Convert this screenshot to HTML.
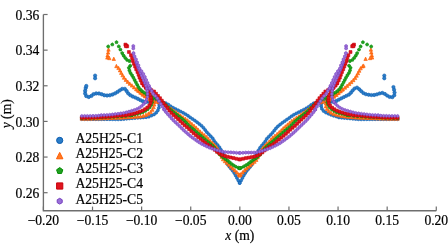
<!DOCTYPE html>
<html><head><meta charset="utf-8"><style>
html,body{margin:0;padding:0;background:#fff;}
svg{display:block;}
text{font-family:"Liberation Serif",serif;font-size:13.6px;fill:#000;stroke:#000;stroke-width:0.2px;}
text.lg{font-size:13.7px;}
</style></head><body>
<svg width="448" height="252" viewBox="0 0 448 252">
<rect width="448" height="252" fill="#fff"/>
<g fill="#2a7dc8" stroke="#0b5cb0" stroke-width="0.6"><circle cx="81.80" cy="119.20" r="1.50"/><circle cx="84.60" cy="119.20" r="1.50"/><circle cx="87.40" cy="119.20" r="1.50"/><circle cx="90.20" cy="119.20" r="1.50"/><circle cx="93.00" cy="119.20" r="1.50"/><circle cx="95.80" cy="119.20" r="1.50"/><circle cx="98.60" cy="119.20" r="1.50"/><circle cx="101.40" cy="119.19" r="1.50"/><circle cx="104.20" cy="119.19" r="1.50"/><circle cx="107.00" cy="119.19" r="1.50"/><circle cx="109.80" cy="119.20" r="1.50"/><circle cx="112.60" cy="119.24" r="1.50"/><circle cx="115.40" cy="119.31" r="1.50"/><circle cx="118.20" cy="119.34" r="1.50"/><circle cx="121.00" cy="119.25" r="1.50"/><circle cx="123.79" cy="119.02" r="1.50"/><circle cx="126.57" cy="118.73" r="1.50"/><circle cx="129.36" cy="118.46" r="1.50"/><circle cx="132.15" cy="118.23" r="1.50"/><circle cx="134.94" cy="118.04" r="1.50"/><circle cx="137.74" cy="117.84" r="1.50"/><circle cx="140.53" cy="117.64" r="1.50"/><circle cx="143.32" cy="117.43" r="1.50"/><circle cx="146.11" cy="117.21" r="1.50"/><circle cx="148.85" cy="116.66" r="1.50"/><circle cx="151.45" cy="115.62" r="1.50"/><circle cx="153.99" cy="114.44" r="1.50"/><circle cx="156.19" cy="112.73" r="1.50"/><circle cx="157.83" cy="110.47" r="1.50"/><circle cx="158.85" cy="107.87" r="1.50"/><circle cx="159.25" cy="105.11" r="1.50"/><circle cx="158.49" cy="102.46" r="1.50"/><circle cx="156.28" cy="100.84" r="1.50"/><circle cx="153.51" cy="100.67" r="1.50"/><circle cx="151.00" cy="101.00" r="1.50"/><circle cx="397.60" cy="119.20" r="1.50"/><circle cx="394.80" cy="119.20" r="1.50"/><circle cx="392.00" cy="119.20" r="1.50"/><circle cx="389.20" cy="119.20" r="1.50"/><circle cx="386.40" cy="119.20" r="1.50"/><circle cx="383.60" cy="119.20" r="1.50"/><circle cx="380.80" cy="119.20" r="1.50"/><circle cx="378.00" cy="119.19" r="1.50"/><circle cx="375.20" cy="119.19" r="1.50"/><circle cx="372.40" cy="119.19" r="1.50"/><circle cx="369.60" cy="119.20" r="1.50"/><circle cx="366.80" cy="119.24" r="1.50"/><circle cx="364.00" cy="119.31" r="1.50"/><circle cx="361.20" cy="119.34" r="1.50"/><circle cx="358.40" cy="119.25" r="1.50"/><circle cx="355.61" cy="119.03" r="1.50"/><circle cx="352.83" cy="118.75" r="1.50"/><circle cx="350.04" cy="118.46" r="1.50"/><circle cx="347.25" cy="118.21" r="1.50"/><circle cx="344.46" cy="117.98" r="1.50"/><circle cx="341.67" cy="117.74" r="1.50"/><circle cx="338.89" cy="117.46" r="1.50"/><circle cx="336.38" cy="116.53" r="1.50"/><circle cx="333.67" cy="115.80" r="1.50"/><circle cx="331.04" cy="114.87" r="1.50"/><circle cx="328.48" cy="113.73" r="1.50"/><circle cx="325.92" cy="112.59" r="1.50"/><circle cx="323.62" cy="111.00" r="1.50"/><circle cx="321.90" cy="108.81" r="1.50"/><circle cx="321.18" cy="106.13" r="1.50"/><circle cx="321.59" cy="103.37" r="1.50"/><circle cx="323.33" cy="101.24" r="1.50"/><circle cx="326.03" cy="100.61" r="1.50"/><circle cx="328.40" cy="101.00" r="1.50"/><circle cx="151.00" cy="101.00" r="1.70"/><circle cx="148.29" cy="101.72" r="1.70"/><circle cx="145.53" cy="102.11" r="1.70"/><circle cx="142.88" cy="101.29" r="1.70"/><circle cx="140.36" cy="100.08" r="1.70"/><circle cx="137.87" cy="98.79" r="1.70"/><circle cx="135.35" cy="97.58" r="1.70"/><circle cx="132.74" cy="96.57" r="1.70"/><circle cx="130.32" cy="95.17" r="1.70"/><circle cx="128.20" cy="93.35" r="1.70"/><circle cx="126.62" cy="91.04" r="1.70"/><circle cx="124.86" cy="88.87" r="1.70"/><circle cx="122.20" cy="88.89" r="1.70"/><circle cx="119.83" cy="90.35" r="1.70"/><circle cx="117.50" cy="91.90" r="1.70"/><circle cx="115.10" cy="93.34" r="1.70"/><circle cx="112.54" cy="94.49" r="1.70"/><circle cx="109.86" cy="95.27" r="1.70"/><circle cx="107.07" cy="95.52" r="1.70"/><circle cx="104.30" cy="95.21" r="1.70"/><circle cx="101.67" cy="94.24" r="1.70"/><circle cx="98.98" cy="93.52" r="1.70"/><circle cx="96.19" cy="93.43" r="1.70"/><circle cx="93.52" cy="94.17" r="1.70"/><circle cx="91.34" cy="95.92" r="1.70"/><circle cx="88.75" cy="96.96" r="1.70"/><circle cx="86.23" cy="96.05" r="1.70"/><circle cx="85.14" cy="93.52" r="1.70"/><circle cx="85.17" cy="90.73" r="1.70"/><circle cx="85.73" cy="87.99" r="1.70"/><circle cx="86.30" cy="86.00" r="1.70"/><circle cx="328.40" cy="101.00" r="1.65"/><circle cx="331.11" cy="101.72" r="1.65"/><circle cx="333.86" cy="102.15" r="1.65"/><circle cx="336.39" cy="101.01" r="1.65"/><circle cx="338.83" cy="99.63" r="1.65"/><circle cx="341.31" cy="98.33" r="1.65"/><circle cx="343.82" cy="97.09" r="1.65"/><circle cx="346.33" cy="95.86" r="1.65"/><circle cx="348.86" cy="94.65" r="1.65"/><circle cx="350.90" cy="92.77" r="1.65"/><circle cx="352.62" cy="90.55" r="1.65"/><circle cx="354.55" cy="88.54" r="1.65"/><circle cx="357.01" cy="87.60" r="1.65"/><circle cx="359.24" cy="89.27" r="1.65"/><circle cx="361.26" cy="91.20" r="1.65"/><circle cx="363.38" cy="93.03" r="1.65"/><circle cx="365.90" cy="94.21" r="1.65"/><circle cx="368.64" cy="94.77" r="1.65"/><circle cx="371.43" cy="95.04" r="1.65"/><circle cx="374.23" cy="94.98" r="1.65"/><circle cx="376.94" cy="94.36" r="1.65"/><circle cx="379.59" cy="93.47" r="1.65"/><circle cx="382.33" cy="92.91" r="1.65"/><circle cx="384.87" cy="93.95" r="1.65"/><circle cx="387.15" cy="95.57" r="1.65"/><circle cx="389.61" cy="96.90" r="1.65"/><circle cx="392.29" cy="97.18" r="1.65"/><circle cx="394.29" cy="95.28" r="1.65"/><circle cx="394.53" cy="92.53" r="1.65"/><circle cx="394.07" cy="89.77" r="1.65"/><circle cx="393.44" cy="87.04" r="1.65"/><circle cx="95.10" cy="75.60" r="1.65"/><circle cx="95.10" cy="78.30" r="1.65"/><circle cx="384.30" cy="75.60" r="1.65"/><circle cx="384.30" cy="78.30" r="1.65"/><circle cx="152.00" cy="101.30" r="1.50"/><circle cx="154.79" cy="101.59" r="1.50"/><circle cx="157.58" cy="101.79" r="1.50"/><circle cx="160.37" cy="101.99" r="1.50"/><circle cx="163.15" cy="102.43" r="1.50"/><circle cx="165.90" cy="103.16" r="1.50"/><circle cx="168.39" cy="104.61" r="1.50"/><circle cx="170.73" cy="106.33" r="1.50"/><circle cx="173.20" cy="107.80" r="1.50"/><circle cx="175.70" cy="109.09" r="1.50"/><circle cx="178.22" cy="110.31" r="1.50"/><circle cx="180.73" cy="111.57" r="1.50"/><circle cx="183.21" cy="112.87" r="1.50"/><circle cx="185.65" cy="114.22" r="1.50"/><circle cx="188.00" cy="115.74" r="1.50"/><circle cx="190.22" cy="117.45" r="1.50"/><circle cx="192.55" cy="119.01" r="1.50"/><circle cx="194.85" cy="120.60" r="1.50"/><circle cx="197.11" cy="122.26" r="1.50"/><circle cx="199.32" cy="123.97" r="1.50"/><circle cx="201.49" cy="125.74" r="1.50"/><circle cx="203.43" cy="127.76" r="1.50"/><circle cx="205.16" cy="129.95" r="1.50"/><circle cx="206.87" cy="132.17" r="1.50"/><circle cx="208.77" cy="134.23" r="1.50"/><circle cx="210.73" cy="136.23" r="1.50"/><circle cx="212.65" cy="138.27" r="1.50"/><circle cx="214.06" cy="140.68" r="1.50"/><circle cx="215.78" cy="142.88" r="1.50"/><circle cx="217.60" cy="145.01" r="1.50"/><circle cx="219.38" cy="147.17" r="1.50"/><circle cx="220.82" cy="149.57" r="1.50"/><circle cx="222.08" cy="152.07" r="1.50"/><circle cx="223.27" cy="154.59" r="1.50"/><circle cx="224.40" cy="157.10" r="1.50"/><circle cx="225.47" cy="159.62" r="1.50"/><circle cx="226.53" cy="162.13" r="1.50"/><circle cx="227.77" cy="164.52" r="1.50"/><circle cx="229.35" cy="166.68" r="1.50"/><circle cx="231.02" cy="168.77" r="1.50"/><circle cx="232.71" cy="170.87" r="1.50"/><circle cx="234.27" cy="173.11" r="1.50"/><circle cx="235.64" cy="175.51" r="1.50"/><circle cx="236.98" cy="177.97" r="1.50"/><circle cx="238.29" cy="180.44" r="1.50"/><circle cx="239.56" cy="182.94" r="1.50"/><circle cx="327.40" cy="101.30" r="1.50"/><circle cx="324.61" cy="101.59" r="1.50"/><circle cx="321.82" cy="101.79" r="1.50"/><circle cx="319.03" cy="101.99" r="1.50"/><circle cx="316.25" cy="102.50" r="1.50"/><circle cx="313.50" cy="103.36" r="1.50"/><circle cx="311.01" cy="104.97" r="1.50"/><circle cx="308.67" cy="106.82" r="1.50"/><circle cx="306.20" cy="108.37" r="1.50"/><circle cx="303.70" cy="109.69" r="1.50"/><circle cx="301.18" cy="110.91" r="1.50"/><circle cx="298.67" cy="112.17" r="1.50"/><circle cx="296.19" cy="113.47" r="1.50"/><circle cx="293.75" cy="114.82" r="1.50"/><circle cx="291.40" cy="116.34" r="1.50"/><circle cx="289.18" cy="118.05" r="1.50"/><circle cx="286.85" cy="119.61" r="1.50"/><circle cx="284.55" cy="121.20" r="1.50"/><circle cx="282.29" cy="122.86" r="1.50"/><circle cx="280.08" cy="124.57" r="1.50"/><circle cx="277.91" cy="126.34" r="1.50"/><circle cx="275.97" cy="128.36" r="1.50"/><circle cx="274.24" cy="130.55" r="1.50"/><circle cx="272.53" cy="132.77" r="1.50"/><circle cx="270.63" cy="134.83" r="1.50"/><circle cx="268.67" cy="136.83" r="1.50"/><circle cx="266.75" cy="138.87" r="1.50"/><circle cx="265.34" cy="141.28" r="1.50"/><circle cx="263.62" cy="143.48" r="1.50"/><circle cx="261.80" cy="145.61" r="1.50"/><circle cx="260.02" cy="147.77" r="1.50"/><circle cx="258.58" cy="150.17" r="1.50"/><circle cx="257.32" cy="152.67" r="1.50"/><circle cx="256.13" cy="155.17" r="1.50"/><circle cx="255.00" cy="157.65" r="1.50"/><circle cx="253.93" cy="160.12" r="1.50"/><circle cx="252.87" cy="162.58" r="1.50"/><circle cx="251.63" cy="164.90" r="1.50"/><circle cx="250.05" cy="166.96" r="1.50"/><circle cx="248.38" cy="168.95" r="1.50"/><circle cx="246.69" cy="170.95" r="1.50"/><circle cx="245.13" cy="173.13" r="1.50"/><circle cx="243.76" cy="175.51" r="1.50"/><circle cx="242.42" cy="177.97" r="1.50"/><circle cx="241.11" cy="180.44" r="1.50"/><circle cx="239.84" cy="182.94" r="1.50"/></g>
<g fill="#ff7a22" stroke="#ff5a00" stroke-width="0.6"><polygon points="81.80,116.80 80.10,120.20 83.50,120.20"/><polygon points="84.60,116.78 82.90,120.18 86.30,120.18"/><polygon points="87.40,116.76 85.70,120.16 89.10,120.16"/><polygon points="90.20,116.74 88.50,120.14 91.90,120.14"/><polygon points="93.00,116.72 91.30,120.12 94.70,120.12"/><polygon points="95.80,116.69 94.10,120.09 97.50,120.09"/><polygon points="98.60,116.62 96.90,120.02 100.30,120.02"/><polygon points="101.40,116.50 99.70,119.90 103.10,119.90"/><polygon points="104.19,116.36 102.49,119.76 105.89,119.76"/><polygon points="106.99,116.24 105.29,119.64 108.69,119.64"/><polygon points="109.79,116.13 108.09,119.53 111.49,119.53"/><polygon points="112.59,116.03 110.89,119.43 114.29,119.43"/><polygon points="115.38,115.93 113.68,119.33 117.08,119.33"/><polygon points="118.18,115.83 116.48,119.23 119.88,119.23"/><polygon points="120.98,115.73 119.28,119.13 122.68,119.13"/><polygon points="123.78,115.61 122.08,119.01 125.48,119.01"/><polygon points="126.57,115.47 124.87,118.87 128.27,118.87"/><polygon points="129.37,115.28 127.67,118.68 131.07,118.68"/><polygon points="132.16,115.09 130.46,118.49 133.86,118.49"/><polygon points="134.96,114.92 133.26,118.32 136.66,118.32"/><polygon points="137.75,114.74 136.05,118.14 139.45,118.14"/><polygon points="140.54,114.52 138.84,117.92 142.24,117.92"/><polygon points="143.27,113.93 141.57,117.33 144.97,117.33"/><polygon points="145.93,113.04 144.23,116.44 147.63,116.44"/><polygon points="148.45,111.83 146.75,115.23 150.15,115.23"/><polygon points="150.67,110.13 148.97,113.53 152.37,113.53"/><polygon points="152.40,107.94 150.70,111.34 154.10,111.34"/><polygon points="153.60,105.42 151.90,108.82 155.30,108.82"/><polygon points="154.23,102.69 152.53,106.09 155.93,106.09"/><polygon points="154.21,99.90 152.51,103.30 155.91,103.30"/><polygon points="152.27,98.09 150.57,101.49 153.97,101.49"/><polygon points="149.54,97.51 147.84,100.91 151.24,100.91"/><polygon points="147.11,96.12 145.41,99.52 148.81,99.52"/><polygon points="144.84,94.49 143.14,97.89 146.54,97.89"/><polygon points="142.63,92.76 140.93,96.16 144.33,96.16"/><polygon points="140.54,90.91 138.84,94.31 142.24,94.31"/><polygon points="138.41,89.09 136.71,92.49 140.11,92.49"/><polygon points="136.23,87.33 134.53,90.73 137.93,90.73"/><polygon points="134.10,85.52 132.40,88.92 135.80,88.92"/><polygon points="131.96,83.71 130.26,87.11 133.66,87.11"/><polygon points="129.82,81.90 128.12,85.30 131.52,85.30"/><polygon points="127.78,79.98 126.08,83.38 129.48,83.38"/><polygon points="125.80,78.00 124.10,81.40 127.50,81.40"/><polygon points="124.00,75.87 122.30,79.27 125.70,79.27"/><polygon points="122.60,73.44 120.90,76.84 124.30,76.84"/><polygon points="121.21,71.01 119.51,74.41 122.91,74.41"/><polygon points="119.99,68.50 118.29,71.90 121.69,71.90"/><polygon points="118.50,66.15 116.80,69.55 120.20,69.55"/><polygon points="116.39,64.31 114.69,67.71 118.09,67.71"/><polygon points="397.60,116.80 395.90,120.20 399.30,120.20"/><polygon points="394.80,116.78 393.10,120.18 396.50,120.18"/><polygon points="392.00,116.76 390.30,120.16 393.70,120.16"/><polygon points="389.20,116.74 387.50,120.14 390.90,120.14"/><polygon points="386.40,116.72 384.70,120.12 388.10,120.12"/><polygon points="383.60,116.69 381.90,120.09 385.30,120.09"/><polygon points="380.80,116.62 379.10,120.02 382.50,120.02"/><polygon points="378.00,116.50 376.30,119.90 379.70,119.90"/><polygon points="375.21,116.36 373.51,119.76 376.91,119.76"/><polygon points="372.41,116.24 370.71,119.64 374.11,119.64"/><polygon points="369.61,116.13 367.91,119.53 371.31,119.53"/><polygon points="366.81,116.04 365.11,119.44 368.51,119.44"/><polygon points="364.02,115.95 362.32,119.35 365.72,119.35"/><polygon points="361.22,115.85 359.52,119.25 362.92,119.25"/><polygon points="358.42,115.74 356.72,119.14 360.12,119.14"/><polygon points="355.62,115.61 353.92,119.01 357.32,119.01"/><polygon points="352.83,115.41 351.13,118.81 354.53,118.81"/><polygon points="350.05,115.12 348.35,118.52 351.75,118.52"/><polygon points="347.26,114.79 345.56,118.19 348.96,118.19"/><polygon points="344.48,114.52 342.78,117.92 346.18,117.92"/><polygon points="341.71,114.13 340.01,117.53 343.41,117.53"/><polygon points="339.00,113.43 337.30,116.83 340.70,116.83"/><polygon points="336.28,112.77 334.58,116.17 337.98,116.17"/><polygon points="333.60,111.94 331.90,115.34 335.30,115.34"/><polygon points="331.06,110.77 329.36,114.17 332.76,114.17"/><polygon points="328.78,109.15 327.08,112.55 330.48,112.55"/><polygon points="326.95,107.04 325.25,110.44 328.65,110.44"/><polygon points="325.86,104.49 324.16,107.89 327.56,107.89"/><polygon points="325.88,101.70 324.18,105.10 327.58,105.10"/><polygon points="327.15,99.24 325.45,102.64 328.85,102.64"/><polygon points="329.48,97.73 327.78,101.13 331.18,101.13"/><polygon points="331.91,96.34 330.21,99.74 333.61,99.74"/><polygon points="334.22,94.75 332.52,98.15 335.92,98.15"/><polygon points="336.43,93.04 334.73,96.44 338.13,96.44"/><polygon points="338.54,91.20 336.84,94.60 340.24,94.60"/><polygon points="340.66,89.37 338.96,92.77 342.36,92.77"/><polygon points="342.83,87.60 341.13,91.00 344.53,91.00"/><polygon points="344.98,85.80 343.28,89.20 346.68,89.20"/><polygon points="347.11,83.99 345.41,87.39 348.81,87.39"/><polygon points="349.25,82.18 347.55,85.58 350.95,85.58"/><polygon points="351.31,80.28 349.61,83.68 353.01,83.68"/><polygon points="353.29,78.31 351.59,81.71 354.99,81.71"/><polygon points="355.16,76.22 353.46,79.62 356.86,79.62"/><polygon points="356.60,73.82 354.90,77.22 358.30,77.22"/><polygon points="357.98,71.39 356.28,74.79 359.68,74.79"/><polygon points="359.25,68.90 357.55,72.30 360.95,72.30"/><polygon points="360.60,66.46 358.90,69.86 362.30,69.86"/><polygon points="362.67,64.58 360.97,67.98 364.37,67.98"/><polygon points="363.50,63.90 361.80,67.30 365.20,67.30"/><polygon points="108.50,47.80 106.80,51.20 110.20,51.20"/><polygon points="108.10,50.70 106.40,54.10 109.80,54.10"/><polygon points="107.60,53.50 105.90,56.90 109.30,56.90"/><polygon points="107.30,55.70 105.60,59.10 109.00,59.10"/><polygon points="109.30,56.30 107.60,59.70 111.00,59.70"/><polygon points="113.80,57.10 112.10,60.50 115.50,60.50"/><polygon points="370.90,47.80 369.20,51.20 372.60,51.20"/><polygon points="371.30,50.70 369.60,54.10 373.00,54.10"/><polygon points="371.80,53.50 370.10,56.90 373.50,56.90"/><polygon points="372.10,55.70 370.40,59.10 373.80,59.10"/><polygon points="370.10,56.30 368.40,59.70 371.80,59.70"/><polygon points="365.60,57.10 363.90,60.50 367.30,60.50"/><polygon points="137.60,87.90 135.90,91.30 139.30,91.30"/><polygon points="139.82,89.61 138.12,93.01 141.52,93.01"/><polygon points="142.08,91.25 140.38,94.65 143.78,94.65"/><polygon points="144.39,92.85 142.69,96.25 146.09,96.25"/><polygon points="146.68,94.46 144.98,97.86 148.38,97.86"/><polygon points="148.90,96.16 147.20,99.56 150.60,99.56"/><polygon points="151.17,97.80 149.47,101.20 152.87,101.20"/><polygon points="153.65,99.09 151.95,102.49 155.35,102.49"/><polygon points="156.33,99.88 154.63,103.28 158.03,103.28"/><polygon points="159.08,100.37 157.38,103.77 160.78,103.77"/><polygon points="161.75,101.25 160.05,104.65 163.45,104.65"/><polygon points="164.31,102.53 162.61,105.93 166.01,105.93"/><polygon points="166.74,104.13 165.04,107.53 168.44,107.53"/><polygon points="169.21,105.67 167.51,109.07 170.91,109.07"/><polygon points="171.57,107.34 169.87,110.74 173.27,110.74"/><polygon points="173.86,109.06 172.16,112.46 175.56,112.46"/><polygon points="176.25,110.53 174.55,113.93 177.95,113.93"/><polygon points="178.51,112.18 176.81,115.58 180.21,115.58"/><polygon points="180.71,113.91 179.01,117.31 182.41,117.31"/><polygon points="183.07,115.41 181.37,118.81 184.77,118.81"/><polygon points="185.41,116.96 183.71,120.36 187.11,120.36"/><polygon points="187.67,118.62 185.97,122.02 189.37,122.02"/><polygon points="189.82,120.41 188.12,123.81 191.52,123.81"/><polygon points="191.93,122.25 190.23,125.65 193.63,125.65"/><polygon points="194.06,124.06 192.36,127.46 195.76,127.46"/><polygon points="196.18,125.90 194.48,129.30 197.88,129.30"/><polygon points="198.11,127.92 196.41,131.32 199.81,131.32"/><polygon points="200.18,129.80 198.48,133.20 201.88,133.20"/><polygon points="202.29,131.64 200.59,135.04 203.99,135.04"/><polygon points="204.47,133.40 202.77,136.80 206.17,136.80"/><polygon points="206.64,135.16 204.94,138.56 208.34,138.56"/><polygon points="208.49,137.26 206.79,140.66 210.19,140.66"/><polygon points="210.38,139.32 208.68,142.72 212.08,142.72"/><polygon points="212.52,141.12 210.82,144.52 214.22,144.52"/><polygon points="214.45,143.15 212.75,146.55 216.15,146.55"/><polygon points="216.34,145.21 214.64,148.61 218.04,148.61"/><polygon points="217.95,147.50 216.25,150.90 219.65,150.90"/><polygon points="219.29,149.96 217.59,153.36 220.99,153.36"/><polygon points="220.57,152.44 218.87,155.84 222.27,155.84"/><polygon points="221.77,154.98 220.07,158.38 223.47,158.38"/><polygon points="223.07,157.44 221.37,160.84 224.77,160.84"/><polygon points="224.94,159.42 223.24,162.82 226.64,162.82"/><polygon points="226.99,161.17 225.29,164.57 228.69,164.57"/><polygon points="228.97,162.96 227.27,166.36 230.67,166.36"/><polygon points="230.92,164.79 229.22,168.19 232.62,168.19"/><polygon points="232.90,166.61 231.20,170.01 234.60,170.01"/><polygon points="234.86,168.51 233.16,171.91 236.56,171.91"/><polygon points="236.80,170.52 235.10,173.92 238.50,173.92"/><polygon points="238.72,172.56 237.02,175.96 240.42,175.96"/><polygon points="239.70,173.60 238.00,177.00 241.40,177.00"/><polygon points="341.80,87.90 340.10,91.30 343.50,91.30"/><polygon points="339.58,89.61 337.88,93.01 341.28,93.01"/><polygon points="337.32,91.25 335.62,94.65 339.02,94.65"/><polygon points="335.01,92.85 333.31,96.25 336.71,96.25"/><polygon points="332.72,94.46 331.02,97.86 334.42,97.86"/><polygon points="330.50,96.16 328.80,99.56 332.20,99.56"/><polygon points="328.23,97.80 326.53,101.20 329.93,101.20"/><polygon points="325.75,99.09 324.05,102.49 327.45,102.49"/><polygon points="323.07,99.88 321.37,103.28 324.77,103.28"/><polygon points="320.32,100.37 318.62,103.77 322.02,103.77"/><polygon points="317.65,101.28 315.95,104.68 319.35,104.68"/><polygon points="315.09,102.65 313.39,106.05 316.79,106.05"/><polygon points="312.66,104.39 310.96,107.79 314.36,107.79"/><polygon points="310.19,106.07 308.49,109.47 311.89,109.47"/><polygon points="307.83,107.86 306.13,111.26 309.53,111.26"/><polygon points="305.54,109.65 303.84,113.05 307.24,113.05"/><polygon points="303.15,111.13 301.45,114.53 304.85,114.53"/><polygon points="300.89,112.78 299.19,116.18 302.59,116.18"/><polygon points="298.69,114.51 296.99,117.91 300.39,117.91"/><polygon points="296.33,116.01 294.63,119.41 298.03,119.41"/><polygon points="293.99,117.56 292.29,120.96 295.69,120.96"/><polygon points="291.73,119.22 290.03,122.62 293.43,122.62"/><polygon points="289.58,121.01 287.88,124.41 291.28,124.41"/><polygon points="287.47,122.85 285.77,126.25 289.17,126.25"/><polygon points="285.34,124.66 283.64,128.06 287.04,128.06"/><polygon points="283.22,126.50 281.52,129.90 284.92,129.90"/><polygon points="281.29,128.52 279.59,131.92 282.99,131.92"/><polygon points="279.22,130.40 277.52,133.80 280.92,133.80"/><polygon points="277.11,132.24 275.41,135.64 278.81,135.64"/><polygon points="274.93,134.00 273.23,137.40 276.63,137.40"/><polygon points="272.76,135.76 271.06,139.16 274.46,139.16"/><polygon points="270.91,137.86 269.21,141.26 272.61,141.26"/><polygon points="269.02,139.92 267.32,143.32 270.72,143.32"/><polygon points="266.88,141.72 265.18,145.12 268.58,145.12"/><polygon points="264.95,143.75 263.25,147.15 266.65,147.15"/><polygon points="263.06,145.81 261.36,149.21 264.76,149.21"/><polygon points="261.45,148.10 259.75,151.50 263.15,151.50"/><polygon points="260.11,150.56 258.41,153.96 261.81,153.96"/><polygon points="258.83,153.04 257.13,156.44 260.53,156.44"/><polygon points="257.63,155.58 255.93,158.98 259.33,158.98"/><polygon points="256.33,158.03 254.63,161.43 258.03,161.43"/><polygon points="254.46,159.95 252.76,163.35 256.16,163.35"/><polygon points="252.41,161.59 250.71,164.99 254.11,164.99"/><polygon points="250.43,163.26 248.73,166.66 252.13,166.66"/><polygon points="248.48,164.97 246.78,168.37 250.18,168.37"/><polygon points="246.50,166.68 244.80,170.08 248.20,170.08"/><polygon points="244.54,168.52 242.84,171.92 246.24,171.92"/><polygon points="242.60,170.52 240.90,173.92 244.30,173.92"/><polygon points="240.68,172.56 238.98,175.96 242.38,175.96"/><polygon points="239.70,173.60 238.00,177.00 241.40,177.00"/></g>
<g fill="#22a022" stroke="#008c00" stroke-width="0.6"><polygon points="81.80,116.42 83.40,117.58 82.79,119.46 80.81,119.46 80.20,117.58"/><polygon points="85.80,116.35 87.40,117.51 86.79,119.39 84.81,119.39 84.20,117.51"/><polygon points="89.80,116.27 91.40,117.43 90.79,119.31 88.81,119.31 88.20,117.43"/><polygon points="93.80,116.16 95.39,117.32 94.78,119.20 92.81,119.20 92.20,117.32"/><polygon points="97.79,116.00 99.39,117.16 98.78,119.04 96.81,119.04 96.20,117.16"/><polygon points="101.79,115.79 103.39,116.95 102.78,118.83 100.80,118.83 100.19,116.95"/><polygon points="105.78,115.55 107.38,116.71 106.77,118.59 104.79,118.59 104.18,116.71"/><polygon points="109.77,115.32 111.37,116.48 110.76,118.36 108.79,118.36 108.18,116.48"/><polygon points="113.77,115.09 115.37,116.25 114.76,118.13 112.78,118.13 112.17,116.25"/><polygon points="117.76,114.86 119.36,116.02 118.75,117.90 116.77,117.90 116.16,116.02"/><polygon points="121.75,114.60 123.35,115.76 122.74,117.63 120.76,117.63 120.15,115.76"/><polygon points="125.74,114.24 127.33,115.41 126.72,117.28 124.75,117.28 124.14,115.41"/><polygon points="129.70,113.70 131.30,114.86 130.69,116.73 128.71,116.73 128.10,114.86"/><polygon points="132.00,113.32 133.60,114.48 132.99,116.36 131.01,116.36 130.40,114.48"/><polygon points="397.60,116.42 399.20,117.58 398.59,119.46 396.61,119.46 396.00,117.58"/><polygon points="393.60,116.35 395.20,117.51 394.59,119.39 392.61,119.39 392.00,117.51"/><polygon points="389.60,116.27 391.20,117.43 390.59,119.31 388.61,119.31 388.00,117.43"/><polygon points="385.60,116.16 387.20,117.32 386.59,119.20 384.62,119.20 384.01,117.32"/><polygon points="381.61,116.00 383.20,117.16 382.59,119.04 380.62,119.04 380.01,117.16"/><polygon points="377.61,115.79 379.21,116.95 378.60,118.83 376.62,118.83 376.01,116.95"/><polygon points="373.62,115.55 375.22,116.71 374.61,118.59 372.63,118.59 372.02,116.71"/><polygon points="369.63,115.32 371.22,116.48 370.61,118.36 368.64,118.36 368.03,116.48"/><polygon points="365.63,115.09 367.23,116.25 366.62,118.13 364.64,118.13 364.03,116.25"/><polygon points="361.64,114.86 363.24,116.02 362.63,117.90 360.65,117.90 360.04,116.02"/><polygon points="357.65,114.60 359.25,115.76 358.64,117.63 356.66,117.63 356.05,115.76"/><polygon points="353.66,114.24 355.26,115.41 354.65,117.28 352.68,117.28 352.07,115.41"/><polygon points="349.70,113.70 351.30,114.86 350.69,116.73 348.71,116.73 348.10,114.86"/><polygon points="347.40,113.32 349.00,114.48 348.39,116.36 346.41,116.36 345.80,114.48"/><polygon points="132.00,113.32 133.60,114.48 132.99,116.36 131.01,116.36 130.40,114.48"/><polygon points="134.73,112.72 136.33,113.88 135.72,115.76 133.75,115.76 133.14,113.88"/><polygon points="137.45,112.05 139.05,113.21 138.44,115.09 136.47,115.09 135.86,113.21"/><polygon points="140.16,111.32 141.75,112.48 141.14,114.36 139.17,114.36 138.56,112.48"/><polygon points="142.81,110.43 144.41,111.59 143.80,113.47 141.82,113.47 141.21,111.59"/><polygon points="145.32,109.20 146.92,110.36 146.31,112.23 144.33,112.23 143.72,110.36"/><polygon points="147.62,107.60 149.22,108.76 148.61,110.64 146.63,110.64 146.02,108.76"/><polygon points="149.68,105.71 151.28,106.87 150.66,108.75 148.69,108.75 148.08,106.87"/><polygon points="151.14,103.33 152.74,104.49 152.13,106.37 150.15,106.37 149.54,104.49"/><polygon points="152.04,100.69 153.64,101.85 153.02,103.73 151.05,103.73 150.44,101.85"/><polygon points="152.11,97.90 153.71,99.06 153.10,100.94 151.13,100.94 150.52,99.06"/><polygon points="151.57,95.17 153.16,96.33 152.55,98.21 150.58,98.21 149.97,96.33"/><polygon points="149.86,92.97 151.46,94.13 150.85,96.01 148.88,96.01 148.27,94.13"/><polygon points="147.80,92.12 149.40,93.28 148.79,95.16 146.81,95.16 146.20,93.28"/><polygon points="347.40,113.32 349.00,114.48 348.39,116.36 346.41,116.36 345.80,114.48"/><polygon points="344.67,112.72 346.26,113.88 345.65,115.76 343.68,115.76 343.07,113.88"/><polygon points="341.95,112.05 343.54,113.21 342.93,115.09 340.96,115.09 340.35,113.21"/><polygon points="339.24,111.32 340.84,112.48 340.23,114.36 338.26,114.36 337.65,112.48"/><polygon points="336.59,110.43 338.19,111.59 337.58,113.47 335.60,113.47 334.99,111.59"/><polygon points="334.08,109.20 335.68,110.36 335.07,112.23 333.09,112.23 332.48,110.36"/><polygon points="331.78,107.60 333.38,108.76 332.77,110.64 330.79,110.64 330.18,108.76"/><polygon points="329.72,105.71 331.32,106.87 330.71,108.75 328.74,108.75 328.12,106.87"/><polygon points="328.26,103.33 329.86,104.49 329.25,106.37 327.27,106.37 326.66,104.49"/><polygon points="327.36,100.69 328.96,101.85 328.35,103.73 326.38,103.73 325.76,101.85"/><polygon points="327.29,97.90 328.88,99.06 328.27,100.94 326.30,100.94 325.69,99.06"/><polygon points="327.83,95.17 329.43,96.33 328.82,98.21 326.85,98.21 326.24,96.33"/><polygon points="329.54,92.97 331.13,94.13 330.52,96.01 328.55,96.01 327.94,94.13"/><polygon points="331.60,92.12 333.20,93.28 332.59,95.16 330.61,95.16 330.00,93.28"/><polygon points="108.20,44.82 109.80,45.98 109.19,47.86 107.21,47.86 106.60,45.98"/><polygon points="112.30,42.82 113.90,43.98 113.29,45.86 111.31,45.86 110.70,43.98"/><polygon points="116.50,40.57 118.10,41.73 117.49,43.61 115.51,43.61 114.90,41.73"/><polygon points="118.80,44.72 120.40,45.88 119.79,47.76 117.81,47.76 117.20,45.88"/><polygon points="120.40,47.92 122.00,49.08 121.39,50.96 119.41,50.96 118.80,49.08"/><polygon points="371.20,44.82 372.80,45.98 372.19,47.86 370.21,47.86 369.60,45.98"/><polygon points="367.10,42.82 368.70,43.98 368.09,45.86 366.11,45.86 365.50,43.98"/><polygon points="362.90,40.57 364.50,41.73 363.89,43.61 361.91,43.61 361.30,41.73"/><polygon points="360.60,44.72 362.20,45.88 361.59,47.76 359.61,47.76 359.00,45.88"/><polygon points="359.00,47.92 360.60,49.08 359.99,50.96 358.01,50.96 357.40,49.08"/><polygon points="122.20,51.42 123.80,52.58 123.19,54.46 121.21,54.46 120.60,52.58"/><polygon points="123.57,53.86 125.16,55.02 124.55,56.90 122.58,56.90 121.97,55.02"/><polygon points="125.18,56.15 126.78,57.31 126.17,59.19 124.19,59.19 123.58,57.31"/><polygon points="127.04,58.24 128.64,59.40 128.03,61.28 126.05,61.28 125.44,59.40"/><polygon points="129.50,59.35 131.09,60.51 130.48,62.39 128.51,62.39 127.90,60.51"/><polygon points="357.20,51.42 358.80,52.58 358.19,54.46 356.21,54.46 355.60,52.58"/><polygon points="355.83,53.86 357.43,55.02 356.82,56.90 354.85,56.90 354.24,55.02"/><polygon points="354.22,56.15 355.82,57.31 355.21,59.19 353.23,59.19 352.62,57.31"/><polygon points="352.36,58.24 353.96,59.40 353.35,61.28 351.37,61.28 350.76,59.40"/><polygon points="349.90,59.35 351.50,60.51 350.89,62.39 348.92,62.39 348.31,60.51"/><polygon points="130.30,64.02 131.90,65.18 131.29,67.06 129.31,67.06 128.70,65.18"/><polygon points="128.89,66.10 130.49,67.26 129.88,69.14 127.90,69.14 127.29,67.26"/><polygon points="129.43,68.74 131.03,69.91 130.42,71.78 128.45,71.78 127.84,69.91"/><polygon points="130.44,71.22 132.04,72.38 131.43,74.26 129.45,74.26 128.84,72.38"/><polygon points="131.94,73.46 133.54,74.62 132.93,76.50 130.95,76.50 130.34,74.62"/><polygon points="133.33,75.78 134.93,76.94 134.32,78.81 132.34,78.81 131.73,76.94"/><polygon points="134.56,78.18 136.16,79.34 135.55,81.22 133.58,81.22 132.97,79.34"/><polygon points="135.83,80.56 137.43,81.72 136.82,83.60 134.85,83.60 134.24,81.72"/><polygon points="137.12,82.93 138.72,84.09 138.11,85.97 136.13,85.97 135.52,84.09"/><polygon points="138.40,85.31 140.00,86.47 139.39,88.35 137.41,88.35 136.80,86.47"/><polygon points="140.01,87.47 141.61,88.63 141.00,90.51 139.02,90.51 138.41,88.63"/><polygon points="141.95,89.34 143.55,90.50 142.94,92.38 140.96,92.38 140.35,90.50"/><polygon points="144.14,90.92 145.74,92.08 145.13,93.96 143.16,93.96 142.55,92.08"/><polygon points="146.41,92.39 148.00,93.55 147.39,95.43 145.42,95.43 144.81,93.55"/><polygon points="148.77,93.70 150.37,94.86 149.76,96.74 147.78,96.74 147.17,94.86"/><polygon points="151.21,94.84 152.81,96.00 152.20,97.88 150.23,97.88 149.62,96.00"/><polygon points="153.70,95.90 155.29,97.06 154.68,98.94 152.71,98.94 152.10,97.06"/><polygon points="156.19,96.95 157.79,98.11 157.18,99.98 155.20,99.98 154.59,98.11"/><polygon points="158.61,98.13 160.21,99.29 159.60,101.17 157.62,101.17 157.01,99.29"/><polygon points="160.94,99.51 162.54,100.67 161.93,102.55 159.95,102.55 159.34,100.67"/><polygon points="163.18,101.11 164.78,102.27 164.16,104.15 162.19,104.15 161.58,102.27"/><polygon points="165.28,102.96 166.88,104.12 166.27,106.00 164.29,106.00 163.68,104.12"/><polygon points="167.21,105.01 168.81,106.17 168.20,108.05 166.22,108.05 165.61,106.17"/><polygon points="169.24,106.97 170.84,108.13 170.23,110.01 168.25,110.01 167.64,108.13"/><polygon points="171.38,108.78 172.98,109.94 172.37,111.82 170.40,111.82 169.79,109.94"/><polygon points="173.54,110.51 175.13,111.67 174.52,113.55 172.55,113.55 171.94,111.67"/><polygon points="175.68,112.18 177.27,113.35 176.66,115.22 174.69,115.22 174.08,113.35"/><polygon points="177.80,113.85 179.40,115.01 178.79,116.88 176.82,116.88 176.21,115.01"/><polygon points="179.93,115.51 181.53,116.67 180.92,118.54 178.95,118.54 178.34,116.67"/><polygon points="182.04,117.19 183.64,118.35 183.03,120.23 181.06,120.23 180.45,118.35"/><polygon points="184.10,118.94 185.70,120.10 185.09,121.98 183.11,121.98 182.50,120.10"/><polygon points="186.01,120.85 187.61,122.01 187.00,123.89 185.02,123.89 184.41,122.01"/><polygon points="187.87,122.80 189.47,123.96 188.86,125.84 186.89,125.84 186.28,123.96"/><polygon points="189.85,124.64 191.44,125.80 190.83,127.68 188.86,127.68 188.25,125.80"/><polygon points="191.92,126.37 193.52,127.53 192.91,129.41 190.93,129.41 190.32,127.53"/><polygon points="194.00,128.09 195.60,129.25 194.99,131.13 193.01,131.13 192.40,129.25"/><polygon points="196.02,129.88 197.62,131.04 197.01,132.92 195.03,132.92 194.42,131.04"/><polygon points="198.03,131.69 199.63,132.85 199.02,134.72 197.04,134.72 196.43,132.85"/><polygon points="200.10,133.43 201.69,134.59 201.08,136.46 199.11,136.46 198.50,134.59"/><polygon points="202.17,135.15 203.77,136.31 203.16,138.19 201.18,138.19 200.57,136.31"/><polygon points="204.18,136.96 205.78,138.12 205.17,140.00 203.19,140.00 202.58,138.12"/><polygon points="206.18,138.77 207.78,139.93 207.17,141.81 205.19,141.81 204.58,139.93"/><polygon points="208.28,140.46 209.88,141.62 209.27,143.50 207.30,143.50 206.69,141.62"/><polygon points="210.38,142.16 211.98,143.32 211.37,145.20 209.39,145.20 208.78,143.32"/><polygon points="212.44,143.90 214.04,145.06 213.43,146.94 211.46,146.94 210.85,145.06"/><polygon points="214.34,145.82 215.94,146.98 215.33,148.86 213.35,148.86 212.74,146.98"/><polygon points="216.06,147.90 217.66,149.06 217.05,150.94 215.07,150.94 214.46,149.06"/><polygon points="217.58,150.13 219.18,151.29 218.57,153.17 216.60,153.17 215.99,151.29"/><polygon points="219.27,152.24 220.87,153.40 220.26,155.28 218.28,155.28 217.67,153.40"/><polygon points="221.23,154.09 222.83,155.25 222.22,157.12 220.25,157.12 219.64,155.25"/><polygon points="223.31,155.79 224.90,156.95 224.29,158.83 222.32,158.83 221.71,156.95"/><polygon points="225.46,157.30 227.06,158.46 226.45,160.34 224.48,160.34 223.87,158.46"/><polygon points="227.59,158.79 229.19,159.95 228.58,161.83 226.60,161.83 225.99,159.95"/><polygon points="229.53,160.48 231.12,161.64 230.51,163.52 228.54,163.52 227.93,161.64"/><polygon points="231.46,162.19 233.05,163.35 232.44,165.23 230.47,165.23 229.86,163.35"/><polygon points="233.61,163.66 235.21,164.82 234.60,166.70 232.63,166.70 232.01,164.82"/><polygon points="235.90,165.03 237.50,166.19 236.88,168.06 234.91,168.06 234.30,166.19"/><polygon points="238.37,166.11 239.96,167.27 239.35,169.15 237.38,169.15 236.77,167.27"/><polygon points="239.70,166.62 241.30,167.78 240.69,169.66 238.71,169.66 238.10,167.78"/><polygon points="349.10,64.02 350.70,65.18 350.09,67.06 348.11,67.06 347.50,65.18"/><polygon points="350.51,66.10 352.11,67.26 351.50,69.14 349.52,69.14 348.91,67.26"/><polygon points="349.97,68.74 351.56,69.91 350.95,71.78 348.98,71.78 348.37,69.91"/><polygon points="348.96,71.22 350.56,72.38 349.95,74.26 347.97,74.26 347.36,72.38"/><polygon points="347.46,73.46 349.06,74.62 348.45,76.50 346.47,76.50 345.86,74.62"/><polygon points="346.07,75.78 347.67,76.94 347.06,78.81 345.08,78.81 344.47,76.94"/><polygon points="344.84,78.18 346.43,79.34 345.82,81.22 343.85,81.22 343.24,79.34"/><polygon points="343.57,80.56 345.16,81.72 344.55,83.60 342.58,83.60 341.97,81.72"/><polygon points="342.28,82.93 343.88,84.09 343.27,85.97 341.29,85.97 340.68,84.09"/><polygon points="341.00,85.31 342.60,86.47 341.99,88.35 340.01,88.35 339.40,86.47"/><polygon points="339.39,87.47 340.99,88.63 340.38,90.51 338.40,90.51 337.79,88.63"/><polygon points="337.45,89.34 339.05,90.50 338.44,92.38 336.46,92.38 335.85,90.50"/><polygon points="335.26,90.92 336.85,92.08 336.24,93.96 334.27,93.96 333.66,92.08"/><polygon points="332.99,92.39 334.59,93.55 333.98,95.43 332.01,95.43 331.40,93.55"/><polygon points="330.63,93.70 332.23,94.86 331.62,96.74 329.64,96.74 329.03,94.86"/><polygon points="328.19,94.84 329.78,96.00 329.17,97.88 327.20,97.88 326.59,96.00"/><polygon points="325.70,95.90 327.30,97.06 326.69,98.94 324.72,98.94 324.11,97.06"/><polygon points="323.21,96.95 324.81,98.11 324.20,99.98 322.22,99.98 321.61,98.11"/><polygon points="320.79,98.13 322.39,99.29 321.78,101.17 319.80,101.17 319.19,99.29"/><polygon points="318.46,99.52 320.06,100.68 319.45,102.55 317.47,102.55 316.86,100.68"/><polygon points="316.22,101.18 317.82,102.34 317.21,104.22 315.24,104.22 314.62,102.34"/><polygon points="314.12,103.13 315.72,104.29 315.11,106.17 313.13,106.17 312.52,104.29"/><polygon points="312.19,105.30 313.79,106.46 313.18,108.34 311.20,108.34 310.59,106.46"/><polygon points="310.16,107.37 311.76,108.53 311.15,110.41 309.17,110.41 308.56,108.53"/><polygon points="308.02,109.29 309.61,110.45 309.00,112.33 307.03,112.33 306.42,110.45"/><polygon points="305.86,111.10 307.46,112.26 306.85,114.14 304.88,114.14 304.27,112.26"/><polygon points="303.72,112.78 305.32,113.95 304.71,115.82 302.74,115.82 302.13,113.95"/><polygon points="301.60,114.45 303.19,115.61 302.58,117.48 300.61,117.48 300.00,115.61"/><polygon points="299.47,116.11 301.06,117.27 300.45,119.14 298.48,119.14 297.87,117.27"/><polygon points="297.36,117.79 298.95,118.95 298.34,120.83 296.37,120.83 295.76,118.95"/><polygon points="295.30,119.54 296.90,120.70 296.29,122.58 294.31,122.58 293.70,120.70"/><polygon points="293.39,121.45 294.99,122.61 294.38,124.49 292.40,124.49 291.79,122.61"/><polygon points="291.53,123.40 293.12,124.56 292.51,126.44 290.54,126.44 289.93,124.56"/><polygon points="289.55,125.24 291.15,126.40 290.54,128.28 288.57,128.28 287.96,126.40"/><polygon points="287.48,126.97 289.08,128.13 288.47,130.01 286.49,130.01 285.88,128.13"/><polygon points="285.40,128.69 287.00,129.85 286.39,131.73 284.41,131.73 283.80,129.85"/><polygon points="283.38,130.48 284.98,131.64 284.37,133.52 282.39,133.52 281.78,131.64"/><polygon points="281.37,132.29 282.97,133.45 282.36,135.32 280.38,135.32 279.77,133.45"/><polygon points="279.30,134.03 280.90,135.19 280.29,137.06 278.32,137.06 277.71,135.19"/><polygon points="277.23,135.75 278.83,136.91 278.22,138.79 276.24,138.79 275.63,136.91"/><polygon points="275.22,137.56 276.82,138.72 276.21,140.60 274.23,140.60 273.62,138.72"/><polygon points="273.22,139.37 274.82,140.53 274.21,142.41 272.23,142.41 271.62,140.53"/><polygon points="271.12,141.06 272.71,142.22 272.10,144.10 270.13,144.10 269.52,142.22"/><polygon points="269.02,142.76 270.62,143.92 270.01,145.80 268.03,145.80 267.42,143.92"/><polygon points="266.96,144.50 268.55,145.66 267.94,147.54 265.97,147.54 265.36,145.66"/><polygon points="265.06,146.42 266.66,147.58 266.05,149.46 264.07,149.46 263.46,147.58"/><polygon points="263.34,148.50 264.94,149.66 264.33,151.54 262.35,151.54 261.74,149.66"/><polygon points="261.82,150.73 263.41,151.89 262.80,153.77 260.83,153.77 260.22,151.89"/><polygon points="260.13,152.84 261.73,154.00 261.12,155.88 259.14,155.88 258.53,154.00"/><polygon points="258.17,154.69 259.76,155.85 259.15,157.72 257.18,157.72 256.57,155.85"/><polygon points="256.09,156.38 257.69,157.54 257.08,159.42 255.11,159.42 254.50,157.54"/><polygon points="253.94,157.81 255.53,158.97 254.92,160.85 252.95,160.85 252.34,158.97"/><polygon points="251.81,159.18 253.41,160.34 252.80,162.21 250.82,162.21 250.21,160.34"/><polygon points="249.87,160.75 251.47,161.91 250.86,163.78 248.89,163.78 248.28,161.91"/><polygon points="247.94,162.34 249.54,163.50 248.93,165.38 246.96,165.38 246.35,163.50"/><polygon points="245.79,163.71 247.39,164.87 246.77,166.74 244.80,166.74 244.19,164.87"/><polygon points="243.50,165.03 245.10,166.19 244.49,168.06 242.52,168.06 241.90,166.19"/><polygon points="241.03,166.11 242.63,167.27 242.02,169.15 240.05,169.15 239.44,167.27"/><polygon points="239.70,166.62 241.30,167.78 240.69,169.66 238.71,169.66 238.10,167.78"/></g>
<g fill="#e0141e" stroke="#c8000a" stroke-width="0.6"><polygon points="80.34,116.25 83.25,116.25 83.25,119.16 80.34,119.16"/><polygon points="83.14,116.19 86.05,116.19 86.05,119.10 83.14,119.10"/><polygon points="85.94,116.13 88.85,116.13 88.85,119.04 85.94,119.04"/><polygon points="88.74,116.08 91.65,116.08 91.65,118.99 88.74,118.99"/><polygon points="91.54,116.01 94.45,116.01 94.45,118.92 91.54,118.92"/><polygon points="94.34,115.91 97.25,115.91 97.25,118.82 94.34,118.82"/><polygon points="97.12,115.58 100.03,115.58 100.03,118.49 97.12,118.49"/><polygon points="99.92,115.44 102.83,115.44 102.83,118.35 99.92,118.35"/><polygon points="102.71,115.34 105.62,115.34 105.62,118.25 102.71,118.25"/><polygon points="105.51,115.21 108.42,115.21 108.42,118.12 105.51,118.12"/><polygon points="108.30,115.00 111.21,115.00 111.21,117.91 108.30,117.91"/><polygon points="111.09,114.75 114.00,114.75 114.00,117.66 111.09,117.66"/><polygon points="113.88,114.47 116.79,114.47 116.79,117.38 113.88,117.38"/><polygon points="116.66,114.21 119.57,114.21 119.57,117.12 116.66,117.12"/><polygon points="119.46,114.06 122.37,114.06 122.37,116.97 119.46,116.97"/><polygon points="122.26,113.98 125.17,113.98 125.17,116.89 122.26,116.89"/><polygon points="125.03,113.57 127.94,113.57 127.94,116.48 125.03,116.48"/><polygon points="127.78,113.08 130.69,113.08 130.69,115.99 127.78,115.99"/><polygon points="130.53,112.55 133.44,112.55 133.44,115.46 130.53,115.46"/><polygon points="133.26,111.92 136.17,111.92 136.17,114.83 133.26,114.83"/><polygon points="135.94,111.10 138.85,111.10 138.85,114.01 135.94,114.01"/><polygon points="138.57,110.15 141.48,110.15 141.48,113.06 138.57,113.06"/><polygon points="141.19,109.15 144.10,109.15 144.10,112.06 141.19,112.06"/><polygon points="143.62,107.78 146.53,107.78 146.53,110.69 143.62,110.69"/><polygon points="145.89,106.14 148.80,106.14 148.80,109.05 145.89,109.05"/><polygon points="147.86,104.17 150.77,104.17 150.77,107.08 147.86,107.08"/><polygon points="149.10,101.66 152.01,101.66 152.01,104.57 149.10,104.57"/><polygon points="149.67,98.93 152.58,98.93 152.58,101.84 149.67,101.84"/><polygon points="149.55,96.14 152.46,96.14 152.46,99.05 149.55,99.05"/><polygon points="148.70,93.48 151.61,93.48 151.61,96.39 148.70,96.39"/><polygon points="147.39,91.01 150.30,91.01 150.30,93.92 147.39,93.92"/><polygon points="145.95,88.60 148.86,88.60 148.86,91.51 145.95,91.51"/><polygon points="144.38,86.29 147.29,86.29 147.29,89.20 144.38,89.20"/><polygon points="142.69,84.05 145.60,84.05 145.60,86.96 142.69,86.96"/><polygon points="141.04,82.05 143.96,82.05 143.96,84.95 141.04,84.95"/><polygon points="396.14,116.25 399.05,116.25 399.05,119.16 396.14,119.16"/><polygon points="393.35,116.19 396.26,116.19 396.26,119.10 393.35,119.10"/><polygon points="390.55,116.13 393.46,116.13 393.46,119.04 390.55,119.04"/><polygon points="387.75,116.08 390.66,116.08 390.66,118.99 387.75,118.99"/><polygon points="384.95,116.01 387.86,116.01 387.86,118.92 384.95,118.92"/><polygon points="382.15,115.91 385.06,115.91 385.06,118.82 382.15,118.82"/><polygon points="379.37,115.58 382.28,115.58 382.28,118.49 379.37,118.49"/><polygon points="376.57,115.44 379.48,115.44 379.48,118.35 376.57,118.35"/><polygon points="373.78,115.34 376.69,115.34 376.69,118.25 373.78,118.25"/><polygon points="370.98,115.21 373.89,115.21 373.89,118.12 370.98,118.12"/><polygon points="368.19,115.00 371.10,115.00 371.10,117.91 368.19,117.91"/><polygon points="365.40,114.75 368.31,114.75 368.31,117.66 365.40,117.66"/><polygon points="362.61,114.47 365.52,114.47 365.52,117.38 362.61,117.38"/><polygon points="359.83,114.21 362.74,114.21 362.74,117.12 359.83,117.12"/><polygon points="357.03,114.06 359.94,114.06 359.94,116.97 357.03,116.97"/><polygon points="354.23,113.98 357.14,113.98 357.14,116.89 354.23,116.89"/><polygon points="351.46,113.57 354.37,113.57 354.37,116.48 351.46,116.48"/><polygon points="348.71,113.08 351.62,113.08 351.62,115.99 348.71,115.99"/><polygon points="345.96,112.55 348.87,112.55 348.87,115.46 345.96,115.46"/><polygon points="343.23,111.92 346.14,111.92 346.14,114.83 343.23,114.83"/><polygon points="340.55,111.10 343.46,111.10 343.46,114.01 340.55,114.01"/><polygon points="337.92,110.15 340.83,110.15 340.83,113.06 337.92,113.06"/><polygon points="335.30,109.15 338.21,109.15 338.21,112.06 335.30,112.06"/><polygon points="332.87,107.78 335.78,107.78 335.78,110.69 332.87,110.69"/><polygon points="330.60,106.14 333.51,106.14 333.51,109.05 330.60,109.05"/><polygon points="328.63,104.17 331.54,104.17 331.54,107.08 328.63,107.08"/><polygon points="327.39,101.66 330.30,101.66 330.30,104.57 327.39,104.57"/><polygon points="326.82,98.93 329.73,98.93 329.73,101.84 326.82,101.84"/><polygon points="326.94,96.14 329.85,96.14 329.85,99.05 326.94,99.05"/><polygon points="327.79,93.48 330.70,93.48 330.70,96.39 327.79,96.39"/><polygon points="329.10,91.01 332.01,91.01 332.01,93.92 329.10,93.92"/><polygon points="330.54,88.60 333.45,88.60 333.45,91.51 330.54,91.51"/><polygon points="332.11,86.29 335.02,86.29 335.02,89.20 332.11,89.20"/><polygon points="333.80,84.05 336.71,84.05 336.71,86.96 333.80,86.96"/><polygon points="335.44,82.05 338.35,82.05 338.35,84.95 335.44,84.95"/><polygon points="123.95,43.15 126.86,43.15 126.86,46.05 123.95,46.05"/><polygon points="124.84,44.05 127.75,44.05 127.75,46.95 124.84,46.95"/><polygon points="125.75,44.84 128.66,44.84 128.66,47.75 125.75,47.75"/><polygon points="124.45,44.75 127.36,44.75 127.36,47.66 124.45,47.66"/><polygon points="127.45,50.55 130.36,50.55 130.36,53.45 127.45,53.45"/><polygon points="352.55,43.15 355.45,43.15 355.45,46.05 352.55,46.05"/><polygon points="351.64,44.05 354.55,44.05 354.55,46.95 351.64,46.95"/><polygon points="350.75,44.84 353.65,44.84 353.65,47.75 350.75,47.75"/><polygon points="352.05,44.75 354.95,44.75 354.95,47.66 352.05,47.66"/><polygon points="349.05,50.55 351.95,50.55 351.95,53.45 349.05,53.45"/><polygon points="129.54,53.75 132.46,53.75 132.46,56.66 129.54,56.66"/><polygon points="130.65,56.53 133.56,56.53 133.56,59.44 130.65,59.44"/><polygon points="131.37,59.44 134.28,59.44 134.28,62.35 131.37,62.35"/><polygon points="132.48,62.22 135.39,62.22 135.39,65.13 132.48,65.13"/><polygon points="133.66,64.98 136.57,64.98 136.57,67.89 133.66,67.89"/><polygon points="134.75,67.77 137.66,67.77 137.66,70.68 134.75,70.68"/><polygon points="135.98,70.51 138.89,70.51 138.89,73.42 135.98,73.42"/><polygon points="137.11,73.29 140.02,73.29 140.02,76.20 137.11,76.20"/><polygon points="138.07,76.13 140.98,76.13 140.98,79.04 138.07,79.04"/><polygon points="139.24,78.89 142.15,78.89 142.15,81.80 139.24,81.80"/><polygon points="140.65,81.54 143.56,81.54 143.56,84.45 140.65,84.45"/><polygon points="142.40,83.97 145.31,83.97 145.31,86.88 142.40,86.88"/><polygon points="144.52,86.09 147.43,86.09 147.43,89.00 144.52,89.00"/><polygon points="147.10,87.60 150.01,87.60 150.01,90.51 147.10,90.51"/><polygon points="149.88,88.71 152.79,88.71 152.79,91.62 149.88,91.62"/><polygon points="152.57,90.03 155.48,90.03 155.48,92.94 152.57,92.94"/><polygon points="154.55,92.27 157.46,92.27 157.46,95.18 154.55,95.18"/><polygon points="156.53,94.51 159.44,94.51 159.44,97.42 156.53,97.42"/><polygon points="158.53,96.75 161.44,96.75 161.44,99.66 158.53,99.66"/><polygon points="160.33,99.18 163.24,99.18 163.24,102.09 160.33,102.09"/><polygon points="162.16,101.65 165.07,101.65 165.07,104.56 162.16,104.56"/><polygon points="164.08,104.10 166.99,104.10 166.99,107.01 164.08,107.01"/><polygon points="166.05,106.54 168.96,106.54 168.96,109.45 166.05,109.45"/><polygon points="167.86,109.08 170.77,109.08 170.77,111.99 167.86,111.99"/><polygon points="169.89,111.44 172.80,111.44 172.80,114.35 169.89,114.35"/><polygon points="172.10,113.58 175.01,113.58 175.01,116.49 172.10,116.49"/><polygon points="174.34,115.59 177.25,115.59 177.25,118.50 174.34,118.50"/><polygon points="176.58,117.58 179.49,117.58 179.49,120.49 176.58,120.49"/><polygon points="178.80,119.61 181.71,119.61 181.71,122.52 178.80,122.52"/><polygon points="180.91,121.74 183.82,121.74 183.82,124.65 180.91,124.65"/><polygon points="183.06,123.83 185.97,123.83 185.97,126.74 183.06,126.74"/><polygon points="185.40,125.70 188.31,125.70 188.31,128.61 185.40,128.61"/><polygon points="187.67,127.66 190.58,127.66 190.58,130.57 187.67,130.57"/><polygon points="189.85,129.72 192.76,129.72 192.76,132.63 189.85,132.63"/><polygon points="192.07,131.74 194.98,131.74 194.98,134.65 192.07,134.65"/><polygon points="194.35,133.68 197.26,133.68 197.26,136.59 194.35,136.59"/><polygon points="196.66,135.60 199.57,135.60 199.57,138.51 196.66,138.51"/><polygon points="199.03,137.44 201.94,137.44 201.94,140.35 199.03,140.35"/><polygon points="201.36,139.33 204.27,139.33 204.27,142.24 201.36,142.24"/><polygon points="203.62,141.30 206.53,141.30 206.53,144.21 203.62,144.21"/><polygon points="206.04,143.07 208.95,143.07 208.95,145.98 206.04,145.98"/><polygon points="208.58,144.67 211.49,144.67 211.49,147.58 208.58,147.58"/><polygon points="211.05,146.37 213.96,146.37 213.96,149.28 211.05,149.28"/><polygon points="213.31,148.35 216.22,148.35 216.22,151.26 213.31,151.26"/><polygon points="215.55,150.33 218.46,150.33 218.46,153.24 215.55,153.24"/><polygon points="217.97,152.11 220.88,152.11 220.88,155.02 217.97,155.02"/><polygon points="220.62,153.50 223.53,153.50 223.53,156.41 220.62,156.41"/><polygon points="223.41,154.52 226.32,154.52 226.32,157.43 223.41,157.43"/><polygon points="226.23,155.31 229.14,155.31 229.14,158.22 226.23,158.22"/><polygon points="229.08,155.97 231.99,155.97 231.99,158.88 229.08,158.88"/><polygon points="231.96,156.58 234.87,156.58 234.87,159.49 231.96,159.49"/><polygon points="234.86,157.28 237.77,157.28 237.77,160.19 234.86,160.19"/><polygon points="237.78,157.94 240.69,157.94 240.69,160.85 237.78,160.85"/><polygon points="346.94,53.75 349.85,53.75 349.85,56.66 346.94,56.66"/><polygon points="345.84,56.53 348.75,56.53 348.75,59.44 345.84,59.44"/><polygon points="345.12,59.44 348.03,59.44 348.03,62.35 345.12,62.35"/><polygon points="344.01,62.22 346.92,62.22 346.92,65.13 344.01,65.13"/><polygon points="342.83,64.98 345.74,64.98 345.74,67.89 342.83,67.89"/><polygon points="341.74,67.77 344.65,67.77 344.65,70.68 341.74,70.68"/><polygon points="340.51,70.51 343.42,70.51 343.42,73.42 340.51,73.42"/><polygon points="339.38,73.29 342.29,73.29 342.29,76.20 339.38,76.20"/><polygon points="338.42,76.13 341.33,76.13 341.33,79.04 338.42,79.04"/><polygon points="337.25,78.89 340.16,78.89 340.16,81.80 337.25,81.80"/><polygon points="335.84,81.54 338.75,81.54 338.75,84.45 335.84,84.45"/><polygon points="334.09,83.97 337.00,83.97 337.00,86.88 334.09,86.88"/><polygon points="331.97,86.09 334.88,86.09 334.88,89.00 331.97,89.00"/><polygon points="329.39,87.60 332.30,87.60 332.30,90.51 329.39,90.51"/><polygon points="326.61,88.71 329.52,88.71 329.52,91.62 326.61,91.62"/><polygon points="323.92,90.03 326.83,90.03 326.83,92.94 323.92,92.94"/><polygon points="321.94,92.27 324.85,92.27 324.85,95.18 321.94,95.18"/><polygon points="319.96,94.51 322.87,94.51 322.87,97.42 319.96,97.42"/><polygon points="317.96,96.75 320.87,96.75 320.87,99.66 317.96,99.66"/><polygon points="316.16,99.21 319.07,99.21 319.07,102.12 316.16,102.12"/><polygon points="314.33,101.74 317.24,101.74 317.24,104.65 314.33,104.65"/><polygon points="312.41,104.29 315.32,104.29 315.32,107.20 312.41,107.20"/><polygon points="310.44,106.84 313.35,106.84 313.35,109.75 310.44,109.75"/><polygon points="308.63,109.48 311.54,109.48 311.54,112.39 308.63,112.39"/><polygon points="306.60,111.95 309.51,111.95 309.51,114.86 306.60,114.86"/><polygon points="304.39,114.16 307.30,114.16 307.30,117.07 304.39,117.07"/><polygon points="302.15,116.19 305.06,116.19 305.06,119.10 302.15,119.10"/><polygon points="299.91,118.18 302.82,118.18 302.82,121.09 299.91,121.09"/><polygon points="297.69,120.21 300.60,120.21 300.60,123.12 297.69,123.12"/><polygon points="295.58,122.34 298.49,122.34 298.49,125.25 295.58,125.25"/><polygon points="293.43,124.43 296.34,124.43 296.34,127.34 293.43,127.34"/><polygon points="291.09,126.30 294.00,126.30 294.00,129.21 291.09,129.21"/><polygon points="288.82,128.26 291.73,128.26 291.73,131.17 288.82,131.17"/><polygon points="286.64,130.32 289.55,130.32 289.55,133.23 286.64,133.23"/><polygon points="284.42,132.34 287.33,132.34 287.33,135.25 284.42,135.25"/><polygon points="282.14,134.28 285.05,134.28 285.05,137.19 282.14,137.19"/><polygon points="279.83,136.20 282.74,136.20 282.74,139.11 279.83,139.11"/><polygon points="277.46,138.04 280.37,138.04 280.37,140.95 277.46,140.95"/><polygon points="275.13,139.93 278.04,139.93 278.04,142.84 275.13,142.84"/><polygon points="272.87,141.90 275.78,141.90 275.78,144.81 272.87,144.81"/><polygon points="270.45,143.67 273.36,143.67 273.36,146.58 270.45,146.58"/><polygon points="267.91,145.27 270.82,145.27 270.82,148.18 267.91,148.18"/><polygon points="265.44,146.97 268.35,146.97 268.35,149.88 265.44,149.88"/><polygon points="263.18,148.95 266.09,148.95 266.09,151.86 263.18,151.86"/><polygon points="260.94,150.93 263.85,150.93 263.85,153.84 260.94,153.84"/><polygon points="258.52,152.71 261.43,152.71 261.43,155.62 258.52,155.62"/><polygon points="255.87,154.10 258.78,154.10 258.78,157.01 255.87,157.01"/><polygon points="253.08,155.06 255.99,155.06 255.99,157.97 253.08,157.97"/><polygon points="250.26,155.69 253.17,155.69 253.17,158.60 250.26,158.60"/><polygon points="247.41,156.17 250.32,156.17 250.32,159.08 247.41,159.08"/><polygon points="244.53,156.63 247.44,156.63 247.44,159.54 244.53,159.54"/><polygon points="241.63,157.28 244.54,157.28 244.54,160.19 241.63,160.19"/><polygon points="238.71,157.94 241.62,157.94 241.62,160.85 238.71,160.85"/></g>
<g fill="#9870d8" stroke="#7840c0" stroke-width="0.6"><polygon points="81.80,114.45 83.14,115.22 83.14,116.78 81.80,117.55 80.46,116.78 80.46,115.22"/><polygon points="84.60,114.43 85.94,115.20 85.94,116.75 84.60,117.53 83.26,116.75 83.26,115.20"/><polygon points="87.40,114.40 88.74,115.18 88.74,116.73 87.40,117.50 86.06,116.73 86.06,115.18"/><polygon points="90.20,114.38 91.54,115.15 91.54,116.70 90.20,117.48 88.86,116.70 88.86,115.15"/><polygon points="93.00,114.34 94.34,115.12 94.34,116.67 93.00,117.44 91.66,116.67 91.66,115.12"/><polygon points="95.80,114.29 97.14,115.06 97.14,116.61 95.80,117.39 94.46,116.61 94.46,115.06"/><polygon points="98.59,114.10 99.93,114.87 99.93,116.42 98.59,117.20 97.25,116.42 97.25,114.87"/><polygon points="101.29,113.59 102.63,114.36 102.63,115.91 101.29,116.69 99.95,115.91 99.95,114.36"/><polygon points="104.09,113.53 105.43,114.31 105.43,115.86 104.09,116.63 102.75,115.86 102.75,114.31"/><polygon points="106.89,113.43 108.23,114.20 108.23,115.75 106.89,116.53 105.54,115.75 105.54,114.20"/><polygon points="109.67,113.19 111.02,113.96 111.02,115.51 109.67,116.29 108.33,115.51 108.33,113.96"/><polygon points="112.46,112.87 113.80,113.64 113.80,115.19 112.46,115.97 111.11,115.19 111.11,113.64"/><polygon points="115.23,112.52 116.58,113.30 116.58,114.85 115.23,115.62 113.89,114.85 113.89,113.30"/><polygon points="118.01,112.16 119.35,112.94 119.35,114.49 118.01,115.26 116.67,114.49 116.67,112.94"/><polygon points="120.79,111.82 122.13,112.59 122.13,114.14 120.79,114.92 119.45,114.14 119.45,112.59"/><polygon points="123.56,111.43 124.91,112.20 124.91,113.75 123.56,114.53 122.22,113.75 122.22,112.20"/><polygon points="126.30,110.82 127.64,111.60 127.64,113.15 126.30,113.92 124.95,113.15 124.95,111.60"/><polygon points="128.99,110.07 130.33,110.84 130.33,112.39 128.99,113.17 127.65,112.39 127.65,110.84"/><polygon points="131.67,109.25 133.01,110.03 133.01,111.58 131.67,112.35 130.33,111.58 130.33,110.03"/><polygon points="134.35,108.44 135.69,109.21 135.69,110.76 134.35,111.54 133.01,110.76 133.01,109.21"/><polygon points="136.97,107.46 138.31,108.23 138.31,109.78 136.97,110.56 135.63,109.78 135.63,108.23"/><polygon points="139.43,106.13 140.77,106.90 140.77,108.45 139.43,109.23 138.09,108.45 138.09,106.90"/><polygon points="141.69,104.48 143.03,105.26 143.03,106.81 141.69,107.58 140.35,106.81 140.35,105.26"/><polygon points="143.70,102.53 145.05,103.31 145.05,104.86 143.70,105.63 142.36,104.86 142.36,103.31"/><polygon points="145.47,100.36 146.81,101.14 146.81,102.69 145.47,103.46 144.12,102.69 144.12,101.14"/><polygon points="146.72,97.87 148.06,98.64 148.06,100.19 146.72,100.97 145.38,100.19 145.38,98.64"/><polygon points="147.42,95.16 148.76,95.94 148.76,97.49 147.42,98.26 146.08,97.49 146.08,95.94"/><polygon points="147.54,92.37 148.88,93.14 148.88,94.69 147.54,95.47 146.20,94.69 146.20,93.14"/><polygon points="147.31,89.58 148.65,90.36 148.65,91.91 147.31,92.68 145.97,91.91 145.97,90.36"/><polygon points="146.73,86.84 148.07,87.62 148.07,89.17 146.73,89.94 145.39,89.17 145.39,87.62"/><polygon points="145.92,84.16 147.26,84.94 147.26,86.49 145.92,87.26 144.58,86.49 144.58,84.94"/><polygon points="144.87,81.57 146.21,82.34 146.21,83.89 144.87,84.67 143.53,83.89 143.53,82.34"/><polygon points="143.83,78.97 145.17,79.75 145.17,81.30 143.83,82.07 142.48,81.30 142.48,79.75"/><polygon points="142.72,76.40 144.06,77.18 144.06,78.73 142.72,79.50 141.37,78.73 141.37,77.18"/><polygon points="141.56,73.85 142.90,74.63 142.90,76.18 141.56,76.95 140.21,76.18 140.21,74.63"/><polygon points="140.39,71.31 141.73,72.08 141.73,73.63 140.39,74.41 139.04,73.63 139.04,72.08"/><polygon points="139.25,68.75 140.59,69.52 140.59,71.07 139.25,71.85 137.91,71.07 137.91,69.52"/><polygon points="138.19,66.16 139.53,66.93 139.53,68.48 138.19,69.26 136.85,68.48 136.85,66.93"/><polygon points="137.23,63.53 138.57,64.30 138.57,65.85 137.23,66.63 135.89,65.85 135.89,64.30"/><polygon points="136.25,60.91 137.59,61.68 137.59,63.23 136.25,64.01 134.90,63.23 134.90,61.68"/><polygon points="397.60,114.45 398.94,115.22 398.94,116.78 397.60,117.55 396.26,116.78 396.26,115.22"/><polygon points="394.80,114.43 396.14,115.20 396.14,116.75 394.80,117.53 393.46,116.75 393.46,115.20"/><polygon points="392.00,114.40 393.34,115.18 393.34,116.73 392.00,117.50 390.66,116.73 390.66,115.18"/><polygon points="389.20,114.38 390.54,115.15 390.54,116.70 389.20,117.48 387.86,116.70 387.86,115.15"/><polygon points="386.40,114.34 387.74,115.12 387.74,116.67 386.40,117.44 385.06,116.67 385.06,115.12"/><polygon points="383.60,114.29 384.94,115.06 384.94,116.61 383.60,117.39 382.26,116.61 382.26,115.06"/><polygon points="380.81,114.10 382.15,114.87 382.15,116.42 380.81,117.20 379.47,116.42 379.47,114.87"/><polygon points="378.11,113.59 379.45,114.36 379.45,115.91 378.11,116.69 376.77,115.91 376.77,114.36"/><polygon points="375.31,113.53 376.65,114.31 376.65,115.86 375.31,116.63 373.97,115.86 373.97,114.31"/><polygon points="372.51,113.43 373.86,114.20 373.86,115.75 372.51,116.53 371.17,115.75 371.17,114.20"/><polygon points="369.73,113.19 371.07,113.96 371.07,115.51 369.73,116.29 368.38,115.51 368.38,113.96"/><polygon points="366.94,112.87 368.29,113.64 368.29,115.19 366.94,115.97 365.60,115.19 365.60,113.64"/><polygon points="364.17,112.52 365.51,113.30 365.51,114.85 364.17,115.62 362.82,114.85 362.82,113.30"/><polygon points="361.39,112.16 362.73,112.94 362.73,114.49 361.39,115.26 360.05,114.49 360.05,112.94"/><polygon points="358.61,111.82 359.95,112.59 359.95,114.14 358.61,114.92 357.27,114.14 357.27,112.59"/><polygon points="355.84,111.43 357.18,112.20 357.18,113.75 355.84,114.53 354.49,113.75 354.49,112.20"/><polygon points="353.10,110.82 354.45,111.60 354.45,113.15 353.10,113.92 351.76,113.15 351.76,111.60"/><polygon points="350.41,110.07 351.75,110.84 351.75,112.39 350.41,113.17 349.07,112.39 349.07,110.84"/><polygon points="347.73,109.25 349.07,110.03 349.07,111.58 347.73,112.35 346.39,111.58 346.39,110.03"/><polygon points="345.05,108.44 346.39,109.21 346.39,110.76 345.05,111.54 343.71,110.76 343.71,109.21"/><polygon points="342.43,107.46 343.77,108.23 343.77,109.78 342.43,110.56 341.09,109.78 341.09,108.23"/><polygon points="339.97,106.13 341.31,106.90 341.31,108.45 339.97,109.23 338.63,108.45 338.63,106.90"/><polygon points="337.71,104.48 339.05,105.26 339.05,106.81 337.71,107.58 336.37,106.81 336.37,105.26"/><polygon points="335.70,102.53 337.04,103.31 337.04,104.86 335.70,105.63 334.35,104.86 334.35,103.31"/><polygon points="333.93,100.36 335.28,101.14 335.28,102.69 333.93,103.46 332.59,102.69 332.59,101.14"/><polygon points="332.68,97.87 334.02,98.64 334.02,100.19 332.68,100.97 331.34,100.19 331.34,98.64"/><polygon points="331.98,95.16 333.32,95.94 333.32,97.49 331.98,98.26 330.64,97.49 330.64,95.94"/><polygon points="331.86,92.37 333.20,93.14 333.20,94.69 331.86,95.47 330.52,94.69 330.52,93.14"/><polygon points="332.09,89.58 333.43,90.36 333.43,91.91 332.09,92.68 330.75,91.91 330.75,90.36"/><polygon points="332.67,86.84 334.01,87.62 334.01,89.17 332.67,89.94 331.33,89.17 331.33,87.62"/><polygon points="333.48,84.16 334.82,84.94 334.82,86.49 333.48,87.26 332.14,86.49 332.14,84.94"/><polygon points="334.53,81.57 335.87,82.34 335.87,83.89 334.53,84.67 333.19,83.89 333.19,82.34"/><polygon points="335.57,78.97 336.92,79.75 336.92,81.30 335.57,82.07 334.23,81.30 334.23,79.75"/><polygon points="336.68,76.40 338.03,77.18 338.03,78.73 336.68,79.50 335.34,78.73 335.34,77.18"/><polygon points="337.84,73.85 339.19,74.63 339.19,76.18 337.84,76.95 336.50,76.18 336.50,74.63"/><polygon points="339.01,71.31 340.36,72.08 340.36,73.63 339.01,74.41 337.67,73.63 337.67,72.08"/><polygon points="340.15,68.75 341.49,69.52 341.49,71.07 340.15,71.85 338.81,71.07 338.81,69.52"/><polygon points="341.21,66.16 342.55,66.93 342.55,68.48 341.21,69.26 339.87,68.48 339.87,66.93"/><polygon points="342.17,63.53 343.51,64.30 343.51,65.85 342.17,66.63 340.83,65.85 340.83,64.30"/><polygon points="343.15,60.91 344.50,61.68 344.50,63.23 343.15,64.01 341.81,63.23 341.81,61.68"/><polygon points="133.30,44.40 134.69,45.20 134.69,46.80 133.30,47.60 131.91,46.80 131.91,45.20"/><polygon points="133.30,46.80 134.69,47.60 134.69,49.20 133.30,50.00 131.91,49.20 131.91,47.60"/><polygon points="346.10,44.40 347.49,45.20 347.49,46.80 346.10,47.60 344.71,46.80 344.71,45.20"/><polygon points="346.10,46.80 347.49,47.60 347.49,49.20 346.10,50.00 344.71,49.20 344.71,47.60"/><polygon points="133.50,51.50 134.97,52.35 134.97,54.05 133.50,54.90 132.03,54.05 132.03,52.35"/><polygon points="134.49,54.65 135.96,55.50 135.96,57.20 134.49,58.05 133.01,57.20 133.01,55.50"/><polygon points="135.83,57.65 137.31,58.50 137.31,60.20 135.83,61.05 134.36,60.20 134.36,58.50"/><polygon points="136.99,60.74 138.46,61.59 138.46,63.29 136.99,64.14 135.51,63.29 135.51,61.59"/><polygon points="138.33,63.75 139.80,64.60 139.80,66.30 138.33,67.15 136.86,66.30 136.86,64.60"/><polygon points="139.42,66.86 140.89,67.71 140.89,69.41 139.42,70.26 137.95,69.41 137.95,67.71"/><polygon points="141.34,69.50 142.81,70.35 142.81,72.05 141.34,72.90 139.87,72.05 139.87,70.35"/><polygon points="143.20,72.22 144.67,73.07 144.67,74.77 143.20,75.62 141.72,74.77 141.72,73.07"/><polygon points="144.71,75.15 146.18,76.00 146.18,77.70 144.71,78.55 143.24,77.70 143.24,76.00"/><polygon points="146.03,78.18 147.50,79.03 147.50,80.73 146.03,81.58 144.55,80.73 144.55,79.03"/><polygon points="147.43,81.16 148.90,82.01 148.90,83.71 147.43,84.56 145.96,83.71 145.96,82.01"/><polygon points="148.89,84.11 150.36,84.96 150.36,86.66 148.89,87.51 147.42,86.66 147.42,84.96"/><polygon points="149.70,86.60 151.17,87.45 151.17,89.15 149.70,90.00 148.23,89.15 148.23,87.45"/><polygon points="345.90,51.50 347.37,52.35 347.37,54.05 345.90,54.90 344.43,54.05 344.43,52.35"/><polygon points="344.91,54.65 346.39,55.50 346.39,57.20 344.91,58.05 343.44,57.20 343.44,55.50"/><polygon points="343.57,57.65 345.04,58.50 345.04,60.20 343.57,61.05 342.09,60.20 342.09,58.50"/><polygon points="342.41,60.74 343.89,61.59 343.89,63.29 342.41,64.14 340.94,63.29 340.94,61.59"/><polygon points="341.07,63.75 342.54,64.60 342.54,66.30 341.07,67.15 339.60,66.30 339.60,64.60"/><polygon points="339.98,66.86 341.45,67.71 341.45,69.41 339.98,70.26 338.51,69.41 338.51,67.71"/><polygon points="338.06,69.50 339.53,70.35 339.53,72.05 338.06,72.90 336.59,72.05 336.59,70.35"/><polygon points="336.20,72.22 337.68,73.07 337.68,74.77 336.20,75.62 334.73,74.77 334.73,73.07"/><polygon points="334.69,75.15 336.16,76.00 336.16,77.70 334.69,78.55 333.22,77.70 333.22,76.00"/><polygon points="333.37,78.18 334.85,79.03 334.85,80.73 333.37,81.58 331.90,80.73 331.90,79.03"/><polygon points="331.97,81.16 333.44,82.01 333.44,83.71 331.97,84.56 330.50,83.71 330.50,82.01"/><polygon points="330.51,84.11 331.98,84.96 331.98,86.66 330.51,87.51 329.04,86.66 329.04,84.96"/><polygon points="329.70,86.60 331.17,87.45 331.17,89.15 329.70,90.00 328.23,89.15 328.23,87.45"/><polygon points="149.70,86.65 151.13,87.47 151.13,89.12 149.70,89.95 148.27,89.12 148.27,87.47"/><polygon points="151.65,89.18 153.08,90.01 153.08,91.66 151.65,92.48 150.23,91.66 150.23,90.01"/><polygon points="153.11,92.02 154.53,92.84 154.53,94.49 153.11,95.32 151.68,94.49 151.68,92.84"/><polygon points="155.33,94.32 156.76,95.14 156.76,96.79 155.33,97.62 153.90,96.79 153.90,95.14"/><polygon points="157.32,96.82 158.75,97.64 158.75,99.29 157.32,100.12 155.89,99.29 155.89,97.64"/><polygon points="159.02,99.53 160.45,100.35 160.45,102.00 159.02,102.83 157.59,102.00 157.59,100.35"/><polygon points="160.74,102.23 162.17,103.06 162.17,104.71 160.74,105.53 159.31,104.71 159.31,103.06"/><polygon points="162.57,104.92 164.00,105.75 164.00,107.40 162.57,108.22 161.14,107.40 161.14,105.75"/><polygon points="164.17,107.79 165.60,108.61 165.60,110.26 164.17,111.09 162.74,110.26 162.74,108.61"/><polygon points="329.70,86.65 331.13,87.47 331.13,89.12 329.70,89.95 328.27,89.12 328.27,87.47"/><polygon points="327.75,89.18 329.17,90.01 329.17,91.66 327.75,92.48 326.32,91.66 326.32,90.01"/><polygon points="326.29,92.02 327.72,92.84 327.72,94.49 326.29,95.32 324.87,94.49 324.87,92.84"/><polygon points="324.07,94.32 325.50,95.14 325.50,96.79 324.07,97.62 322.64,96.79 322.64,95.14"/><polygon points="322.08,96.82 323.51,97.64 323.51,99.29 322.08,100.12 320.65,99.29 320.65,97.64"/><polygon points="320.38,99.53 321.81,100.35 321.81,102.00 320.38,102.83 318.95,102.00 318.95,100.35"/><polygon points="318.66,102.24 320.09,103.06 320.09,104.71 318.66,105.54 317.23,104.71 317.23,103.06"/><polygon points="316.83,104.97 318.26,105.79 318.26,107.44 316.83,108.27 315.40,107.44 315.40,105.79"/><polygon points="315.23,107.90 316.66,108.73 316.66,110.38 315.23,111.20 313.80,110.38 313.80,108.73"/><polygon points="164.30,108.08 165.69,108.88 165.69,110.48 164.30,111.28 162.91,110.48 162.91,108.88"/><polygon points="165.96,110.47 167.34,111.27 167.34,112.87 165.96,113.67 164.57,112.87 164.57,111.27"/><polygon points="167.86,112.69 169.25,113.49 169.25,115.09 167.86,115.89 166.48,115.09 166.48,113.49"/><polygon points="169.86,114.82 171.25,115.62 171.25,117.22 169.86,118.02 168.48,117.22 168.48,115.62"/><polygon points="171.77,117.01 173.15,117.81 173.15,119.41 171.77,120.21 170.38,119.41 170.38,117.81"/><polygon points="173.74,119.08 175.13,119.88 175.13,121.48 173.74,122.28 172.35,121.48 172.35,119.88"/><polygon points="175.81,120.99 177.19,121.79 177.19,123.39 175.81,124.19 174.42,123.39 174.42,121.79"/><polygon points="177.85,122.91 179.24,123.71 179.24,125.31 177.85,126.11 176.46,125.31 176.46,123.71"/><polygon points="179.86,124.86 181.24,125.66 181.24,127.26 179.86,128.06 178.47,127.26 178.47,125.66"/><polygon points="181.85,126.82 183.24,127.62 183.24,129.22 181.85,130.02 180.47,129.22 180.47,127.62"/><polygon points="183.86,128.77 185.25,129.57 185.25,131.17 183.86,131.97 182.48,131.17 182.48,129.57"/><polygon points="185.94,130.65 187.32,131.45 187.32,133.05 185.94,133.85 184.55,133.05 184.55,131.45"/><polygon points="188.05,132.49 189.43,133.29 189.43,134.89 188.05,135.69 186.66,134.89 186.66,133.29"/><polygon points="190.17,134.32 191.56,135.12 191.56,136.72 190.17,137.52 188.79,136.72 188.79,135.12"/><polygon points="192.39,136.02 193.78,136.82 193.78,138.42 192.39,139.22 191.01,138.42 191.01,136.82"/><polygon points="194.68,137.63 196.07,138.43 196.07,140.03 194.68,140.83 193.30,140.03 193.30,138.43"/><polygon points="196.97,139.25 198.36,140.05 198.36,141.65 196.97,142.45 195.58,141.65 195.58,140.05"/><polygon points="199.28,140.83 200.67,141.63 200.67,143.23 199.28,144.03 197.89,143.23 197.89,141.63"/><polygon points="201.68,142.27 203.07,143.07 203.07,144.67 201.68,145.47 200.29,144.67 200.29,143.07"/><polygon points="204.18,143.53 205.57,144.33 205.57,145.93 204.18,146.73 202.80,145.93 202.80,144.33"/><polygon points="206.70,144.75 208.09,145.55 208.09,147.15 206.70,147.95 205.32,147.15 205.32,145.55"/><polygon points="209.22,145.97 210.61,146.77 210.61,148.37 209.22,149.17 207.83,148.37 207.83,146.77"/><polygon points="211.85,146.91 213.24,147.71 213.24,149.31 211.85,150.11 210.47,149.31 210.47,147.71"/><polygon points="214.53,147.74 215.91,148.54 215.91,150.14 214.53,150.94 213.14,150.14 213.14,148.54"/><polygon points="217.18,148.63 218.57,149.43 218.57,151.03 217.18,151.83 215.80,151.03 215.80,149.43"/><polygon points="219.87,149.41 221.26,150.21 221.26,151.81 219.87,152.61 218.48,151.81 218.48,150.21"/><polygon points="222.60,150.01 223.99,150.81 223.99,152.41 222.60,153.21 221.22,152.41 221.22,150.81"/><polygon points="225.35,150.42 226.74,151.22 226.74,152.82 225.35,153.62 223.97,152.82 223.97,151.22"/><polygon points="228.12,150.63 229.50,151.43 229.50,153.03 228.12,153.83 226.73,153.03 226.73,151.43"/><polygon points="230.89,150.78 232.27,151.58 232.27,153.18 230.89,153.98 229.50,153.18 229.50,151.58"/><polygon points="233.66,150.95 235.05,151.75 235.05,153.35 233.66,154.15 232.28,153.35 232.28,151.75"/><polygon points="236.45,151.18 237.83,151.98 237.83,153.58 236.45,154.38 235.06,153.58 235.06,151.98"/><polygon points="239.24,151.37 240.62,152.17 240.62,153.77 239.24,154.57 237.85,153.77 237.85,152.17"/><polygon points="315.10,108.20 316.49,109.00 316.49,110.60 315.10,111.40 313.71,110.60 313.71,109.00"/><polygon points="313.44,110.68 314.83,111.48 314.83,113.08 313.44,113.88 312.06,113.08 312.06,111.48"/><polygon points="311.54,113.01 312.92,113.81 312.92,115.41 311.54,116.21 310.15,115.41 310.15,113.81"/><polygon points="309.54,115.26 310.92,116.06 310.92,117.66 309.54,118.46 308.15,117.66 308.15,116.06"/><polygon points="307.63,117.54 309.02,118.34 309.02,119.94 307.63,120.74 306.25,119.94 306.25,118.34"/><polygon points="305.66,119.67 307.05,120.47 307.05,122.07 305.66,122.87 304.27,122.07 304.27,120.47"/><polygon points="303.59,121.59 304.98,122.39 304.98,123.99 303.59,124.79 302.21,123.99 302.21,122.39"/><polygon points="301.55,123.51 302.94,124.31 302.94,125.91 301.55,126.71 300.16,125.91 300.16,124.31"/><polygon points="299.54,125.46 300.93,126.26 300.93,127.86 299.54,128.66 298.16,127.86 298.16,126.26"/><polygon points="297.55,127.42 298.93,128.22 298.93,129.82 297.55,130.62 296.16,129.82 296.16,128.22"/><polygon points="295.54,129.37 296.92,130.17 296.92,131.77 295.54,132.57 294.15,131.77 294.15,130.17"/><polygon points="293.46,131.25 294.85,132.05 294.85,133.65 293.46,134.45 292.08,133.65 292.08,132.05"/><polygon points="291.35,133.09 292.74,133.89 292.74,135.49 291.35,136.29 289.97,135.49 289.97,133.89"/><polygon points="289.23,134.92 290.61,135.72 290.61,137.32 289.23,138.12 287.84,137.32 287.84,135.72"/><polygon points="287.01,136.62 288.39,137.42 288.39,139.02 287.01,139.82 285.62,139.02 285.62,137.42"/><polygon points="284.72,138.23 286.10,139.03 286.10,140.63 284.72,141.43 283.33,140.63 283.33,139.03"/><polygon points="282.43,139.85 283.82,140.65 283.82,142.25 282.43,143.05 281.04,142.25 281.04,140.65"/><polygon points="280.12,141.43 281.51,142.23 281.51,143.83 280.12,144.63 278.73,143.83 278.73,142.23"/><polygon points="277.72,142.87 279.11,143.67 279.11,145.27 277.72,146.07 276.33,145.27 276.33,143.67"/><polygon points="275.22,144.13 276.60,144.93 276.60,146.53 275.22,147.33 273.83,146.53 273.83,144.93"/><polygon points="272.70,145.35 274.08,146.15 274.08,147.75 272.70,148.55 271.31,147.75 271.31,146.15"/><polygon points="270.18,146.57 271.57,147.37 271.57,148.97 270.18,149.77 268.79,148.97 268.79,147.37"/><polygon points="267.55,147.51 268.93,148.31 268.93,149.91 267.55,150.71 266.16,149.91 266.16,148.31"/><polygon points="264.87,148.34 266.26,149.14 266.26,150.74 264.87,151.54 263.49,150.74 263.49,149.14"/><polygon points="262.22,149.23 263.60,150.03 263.60,151.63 262.22,152.43 260.83,151.63 260.83,150.03"/><polygon points="259.53,150.01 260.92,150.81 260.92,152.41 259.53,153.21 258.14,152.41 258.14,150.81"/><polygon points="256.80,150.61 258.18,151.41 258.18,153.01 256.80,153.81 255.41,153.01 255.41,151.41"/><polygon points="254.05,150.93 255.43,151.73 255.43,153.33 254.05,154.13 252.66,153.33 252.66,151.73"/><polygon points="251.28,150.99 252.67,151.79 252.67,153.39 251.28,154.19 249.90,153.39 249.90,151.79"/><polygon points="248.51,150.96 249.90,151.76 249.90,153.36 248.51,154.16 247.13,153.36 247.13,151.76"/><polygon points="245.74,151.00 247.12,151.80 247.12,153.40 245.74,154.20 244.35,153.40 244.35,151.80"/><polygon points="242.95,151.18 244.34,151.98 244.34,153.58 242.95,154.38 241.57,153.58 241.57,151.98"/><polygon points="240.16,151.37 241.55,152.17 241.55,153.77 240.16,154.57 238.78,153.77 238.78,152.17"/></g>
<path d="M43.4 14.5 V210.7 H436.3" fill="none" stroke="#6e6e6e" stroke-width="1.35"/>
<line x1="43.4" x2="47.6" y1="192.70" y2="192.70" stroke="#6e6e6e" stroke-width="1.2"/>
<text x="39.4" y="198.00" text-anchor="end">0.26</text>
<line x1="43.4" x2="47.6" y1="157.06" y2="157.06" stroke="#6e6e6e" stroke-width="1.2"/>
<text x="39.4" y="162.36" text-anchor="end">0.28</text>
<line x1="43.4" x2="47.6" y1="121.42" y2="121.42" stroke="#6e6e6e" stroke-width="1.2"/>
<text x="39.4" y="126.72" text-anchor="end">0.30</text>
<line x1="43.4" x2="47.6" y1="85.78" y2="85.78" stroke="#6e6e6e" stroke-width="1.2"/>
<text x="39.4" y="91.08" text-anchor="end">0.32</text>
<line x1="43.4" x2="47.6" y1="50.14" y2="50.14" stroke="#6e6e6e" stroke-width="1.2"/>
<text x="39.4" y="55.44" text-anchor="end">0.34</text>
<line x1="43.4" x2="47.6" y1="14.50" y2="14.50" stroke="#6e6e6e" stroke-width="1.2"/>
<text x="39.4" y="19.80" text-anchor="end">0.36</text>
<line x1="43.40" x2="43.40" y1="210.7" y2="206.6" stroke="#6e6e6e" stroke-width="1.2"/>
<text x="43.40" y="224.5" text-anchor="middle">−0.20</text>
<line x1="92.51" x2="92.51" y1="210.7" y2="206.6" stroke="#6e6e6e" stroke-width="1.2"/>
<text x="92.51" y="224.5" text-anchor="middle">−0.15</text>
<line x1="141.62" x2="141.62" y1="210.7" y2="206.6" stroke="#6e6e6e" stroke-width="1.2"/>
<text x="141.62" y="224.5" text-anchor="middle">−0.10</text>
<line x1="190.73" x2="190.73" y1="210.7" y2="206.6" stroke="#6e6e6e" stroke-width="1.2"/>
<text x="190.73" y="224.5" text-anchor="middle">−0.05</text>
<line x1="239.84" x2="239.84" y1="210.7" y2="206.6" stroke="#6e6e6e" stroke-width="1.2"/>
<text x="239.84" y="224.5" text-anchor="middle">0.00</text>
<line x1="288.95" x2="288.95" y1="210.7" y2="206.6" stroke="#6e6e6e" stroke-width="1.2"/>
<text x="288.95" y="224.5" text-anchor="middle">0.05</text>
<line x1="338.06" x2="338.06" y1="210.7" y2="206.6" stroke="#6e6e6e" stroke-width="1.2"/>
<text x="338.06" y="224.5" text-anchor="middle">0.10</text>
<line x1="387.17" x2="387.17" y1="210.7" y2="206.6" stroke="#6e6e6e" stroke-width="1.2"/>
<text x="387.17" y="224.5" text-anchor="middle">0.15</text>
<line x1="436.28" x2="436.28" y1="210.7" y2="206.6" stroke="#6e6e6e" stroke-width="1.2"/>
<text x="436.28" y="224.5" text-anchor="middle">0.20</text>
<text x="239.8" y="239.8" text-anchor="middle"><tspan font-style="italic">x</tspan> (m)</text>
<text transform="translate(10.7,113.8) rotate(-90)" text-anchor="middle"><tspan font-style="italic">y</tspan> (m)</text>
<circle cx="59.70" cy="140.40" r="3.10" fill="#2a7dc8" stroke="#0b5cb0" stroke-width="1.0"/>
<text class="lg" x="75.4" y="142.70">A25H25-C1</text>
<polygon points="59.70,152.40 56.50,158.80 62.90,158.80" fill="#ff7a22" stroke="#ff5a00" stroke-width="1.0"/>
<text class="lg" x="75.4" y="157.90">A25H25-C2</text>
<polygon points="59.70,167.55 62.80,169.79 61.61,173.43 57.79,173.43 56.60,169.79" fill="#22a022" stroke="#008c00" stroke-width="1.0"/>
<text class="lg" x="75.4" y="173.10">A25H25-C3</text>
<polygon points="56.60,182.90 62.80,182.90 62.80,189.10 56.60,189.10" fill="#e0141e" stroke="#c8000a" stroke-width="1.0"/>
<text class="lg" x="75.4" y="188.30">A25H25-C4</text>
<polygon points="59.70,198.30 62.21,199.75 62.21,202.65 59.70,204.10 57.19,202.65 57.19,199.75" fill="#9870d8" stroke="#7840c0" stroke-width="1.0"/>
<text class="lg" x="75.4" y="203.50">A25H25-C5</text>
</svg>
</body></html>
